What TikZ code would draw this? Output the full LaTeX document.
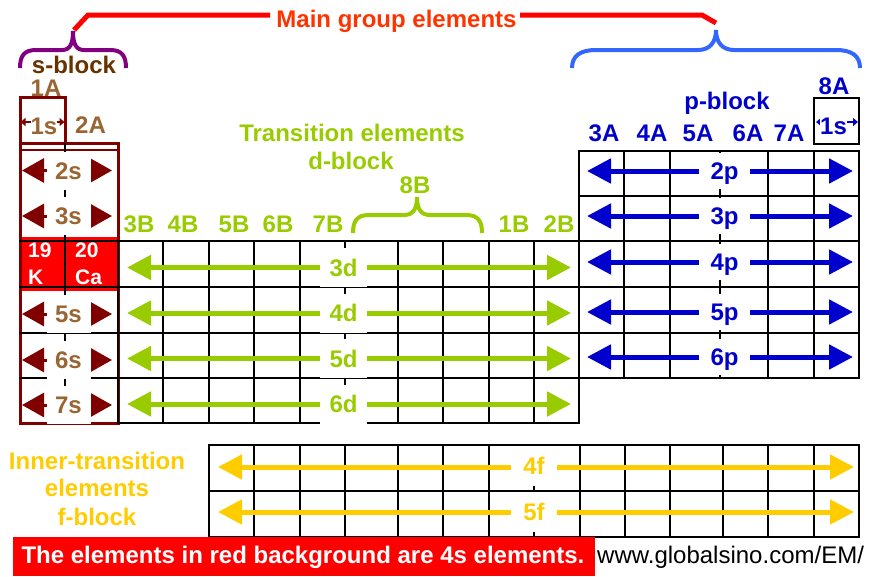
\documentclass[tikz,border=0pt]{standalone}
\usepackage{fontspec}
\setmainfont{Liberation Sans}
\usetikzlibrary{arrows.meta}
\definecolor{mainred}{HTML}{FF3300}
\definecolor{linered}{HTML}{FF0000}
\definecolor{dred}{HTML}{800000}
\definecolor{sbrown}{HTML}{996633}
\definecolor{dbrown}{HTML}{663300}
\definecolor{spurple}{HTML}{800080}
\definecolor{pblue}{HTML}{0000CC}
\definecolor{lblue}{HTML}{3366FF}
\definecolor{dgreen}{HTML}{99CC00}
\definecolor{fyellow}{HTML}{FFCC00}
\definecolor{bgred}{HTML}{FF0000}
\begin{document}
\begin{tikzpicture}[x=1pt,y=-1pt,
  grid/.style={line width=2.6pt, black, line cap=rect},
  sgrid/.style={line width=3pt, dred},
  lab/.style={font=\bfseries\fontsize{24}{28}\selectfont, inner sep=0pt, anchor=base},
  rowlab/.style={font=\bfseries\fontsize{24}{28}\selectfont, inner sep=0pt, fill=white, text height=17pt, text depth=0pt},
  sarrow/.style={dred, line width=3pt, {Triangle[length=22pt,width=24pt]}-{Triangle[length=22pt,width=24pt]}},
  rowarrow/.style={line width=5pt, {Triangle[length=24pt,width=24pt]}-{Triangle[length=24pt,width=24pt]}},
  tinyarrow/.style={line width=1.2pt, {Triangle[length=5pt,width=8pt]}-{Triangle[length=5pt,width=8pt]}},
  brace/.style={line width=4pt},
]
\useasboundingbox (0,0) rectangle (875,576);

% ---------- red 4s row background ----------
\fill[bgred] (20,237) rectangle (118,291);

% ---------- s-block outline ----------
\draw[sgrid] (20,143) rectangle (118,423);
\draw[dred, line width=2.5pt] (20,150) -- (118,150);
\draw[sgrid] (20,97) rectangle (65,143);
\draw[grid, line cap=butt] (65,143) -- (65,422);

% ---------- grid lines ----------
\foreach \y in {241,287,333,378} \draw[grid] (20,\y) -- (859,\y);
\draw[grid] (118,423) -- (579,423);
\foreach \y in {151,196} \draw[grid] (579,\y) -- (859,\y);
\foreach \x in {118,163,209,254,300,345,398,443,489,534} \draw[grid] (\x,241) -- (\x,423);
\draw[grid] (579,151) -- (579,423);
\foreach \x in {624,670,720,768,814,859} \draw[grid] (\x,151) -- (\x,378);
\draw[grid] (814,98) rectangle (859,144);
\foreach \x in {209,254,300,345,398,443,489,534,580,625,670,723,768,814,859} \draw[grid] (\x,445) -- (\x,537);
\foreach \y in {445,491,537} \draw[grid] (209,\y) -- (859,\y);

% ---------- braces and main group line ----------
\coordinate (sTip) at (73,31);
\coordinate (pTip) at (716,30);
\coordinate (dTip) at (417,197);
\draw[brace, spurple] (20,68) .. controls (20,56) and (24,50) .. (36,50) -- (62,50)
   .. controls (70,50) and (73,44) .. (sTip) .. controls (73,44) and (76,50) .. (84,50)
   -- (110,50) .. controls (122,50) and (126,56) .. (126,68);
\draw[brace, lblue] (572,68) .. controls (572,56) and (580,50) .. (596,50) -- (698,50)
   .. controls (710,50) and (716,42) .. (pTip) .. controls (716,42) and (722,50) .. (734,50)
   -- (836,50) .. controls (852,50) and (860,56) .. (860,68);
\draw[brace, dgreen] (353,233) .. controls (353,221) and (357,215) .. (369,215) -- (404,215)
   .. controls (413,215) and (417,209) .. (dTip) .. controls (417,209) and (421,215) .. (430,215)
   -- (466,215) .. controls (478,215) and (482,221) .. (482,233);

\node[lab, text=mainred] (mg) at (396.5,27) {Main group elements};
\coordinate (mgL) at (270,15);
\coordinate (mgR) at (520,15);
\draw[linered, line width=5pt] (74,30) -- (88,15) -- (mgL);
\draw[linered, line width=5pt] (mgR) -- (702,15) -- (716,23);

% ---------- s-block texts ----------
\node[lab, text=dbrown] (sblock) at (74,73) {s-block};
\node[lab, text=sbrown] (g1A) at (46,96) {1A};
\node[lab, text=sbrown] (g2A) at (90.5,133) {2A};
\coordinate (s1L) at (20.5,122);
\coordinate (s1R) at (64.5,122);
\draw[tinyarrow, dred] (s1L) -- (s1R);
\node[rowlab, text=sbrown] (s1) at (44,125.5) {1s};

\foreach \nm/\yy in {2s/170.5, 3s/216, 5s/314, 6s/360, 7s/405} {
  \coordinate (L\nm) at (22,\yy);
  \coordinate (R\nm) at (112,\yy);
  \draw[sarrow] (L\nm) -- (R\nm);
  \node[rowlab, text=sbrown, minimum width=44pt, minimum height=38pt] (n\nm) at (68.5,\yy) {\nm};
}

\begin{scope}[font=\bfseries\fontsize{21}{25}\selectfont, text=white, inner sep=0pt]
\node[anchor=base west] (n19) at (28,257) {19};
\node[anchor=base west] (nK) at (28,284) {K};
\node[anchor=base west] (n20) at (75,257) {20};
\node[anchor=base west] (nCa) at (75,284) {Ca};
\end{scope}

% ---------- d-block ----------
\node[lab, text=dgreen] (trans) at (352,141.5) {Transition elements};
\node[lab, text=dgreen] (dblock) at (351,169) {d-block};
\node[lab, text=dgreen] (g8B) at (415,193) {8B};
\foreach \g/\xx in {3B/139, 4B/183, 5B/234, 6B/278, 7B/328, 1B/514, 2B/559}
  \node[lab, text=dgreen] (g\g) at (\xx,232) {\g};
\foreach \nm/\yy in {3d/267.5, 4d/313, 5d/358.5, 6d/404} {
  \coordinate (L\nm) at (127,\yy);
  \coordinate (R\nm) at (571,\yy);
  \draw[rowarrow, dgreen] (L\nm) -- (R\nm);
  \node[rowlab, text=dgreen, minimum width=47pt, minimum height=39pt] (n\nm) at (343.5,\yy) {\nm};
}

% ---------- p-block ----------
\node[lab, text=pblue] (pblock) at (727,109) {p-block};
\node[lab, text=pblue] (g8A) at (834,94) {8A};
\foreach \g/\xx in {3A/604, 4A/652, 5A/698, 6A/748, 7A/789}
  \node[lab, text=pblue] (g\g) at (\xx,141) {\g};
\coordinate (h1L) at (816,122);
\coordinate (h1R) at (858,122);
\draw[tinyarrow, pblue] (h1L) -- (h1R);
\node[rowlab, text=pblue] (h1) at (833.5,125.5) {1s};
\foreach \nm/\yy in {2p/171, 3p/216, 4p/262, 5p/312, 6p/357} {
  \coordinate (L\nm) at (587,\yy);
  \coordinate (R\nm) at (853,\yy);
  \draw[rowarrow, pblue] (L\nm) -- (R\nm);
  \node[rowlab, text=pblue, minimum width=51pt, minimum height=36pt] (n\nm) at (724.5,\yy) {\nm};
}

% ---------- f-block ----------
\node[lab, text=fyellow] (inner1) at (97,469) {Inner-transition};
\node[lab, text=fyellow] (inner2) at (97,496) {elements};
\node[lab, text=fyellow] (inner3) at (97,525) {f-block};
\foreach \nm/\yy/\ly in {4f/467/466, 5f/512/512} {
  \coordinate (L\nm) at (218,\yy);
  \coordinate (R\nm) at (854,\yy);
  \draw[rowarrow, fyellow] (L\nm) -- (R\nm);
  \node[rowlab, text=fyellow, minimum width=46pt, minimum height=40pt] (n\nm) at (534,\ly) {\nm};
}

% ---------- bottom note ----------
\fill[bgred] (13,537) rectangle (595,576);
\node[lab, text=white] (note) at (303,563) {The elements in red background are 4s elements.};
\node[font=\fontsize{24}{28}\selectfont, inner sep=0pt, anchor=base west] (url) at (597,563) {www.globalsino.com/EM/};
\end{tikzpicture}
\end{document}
